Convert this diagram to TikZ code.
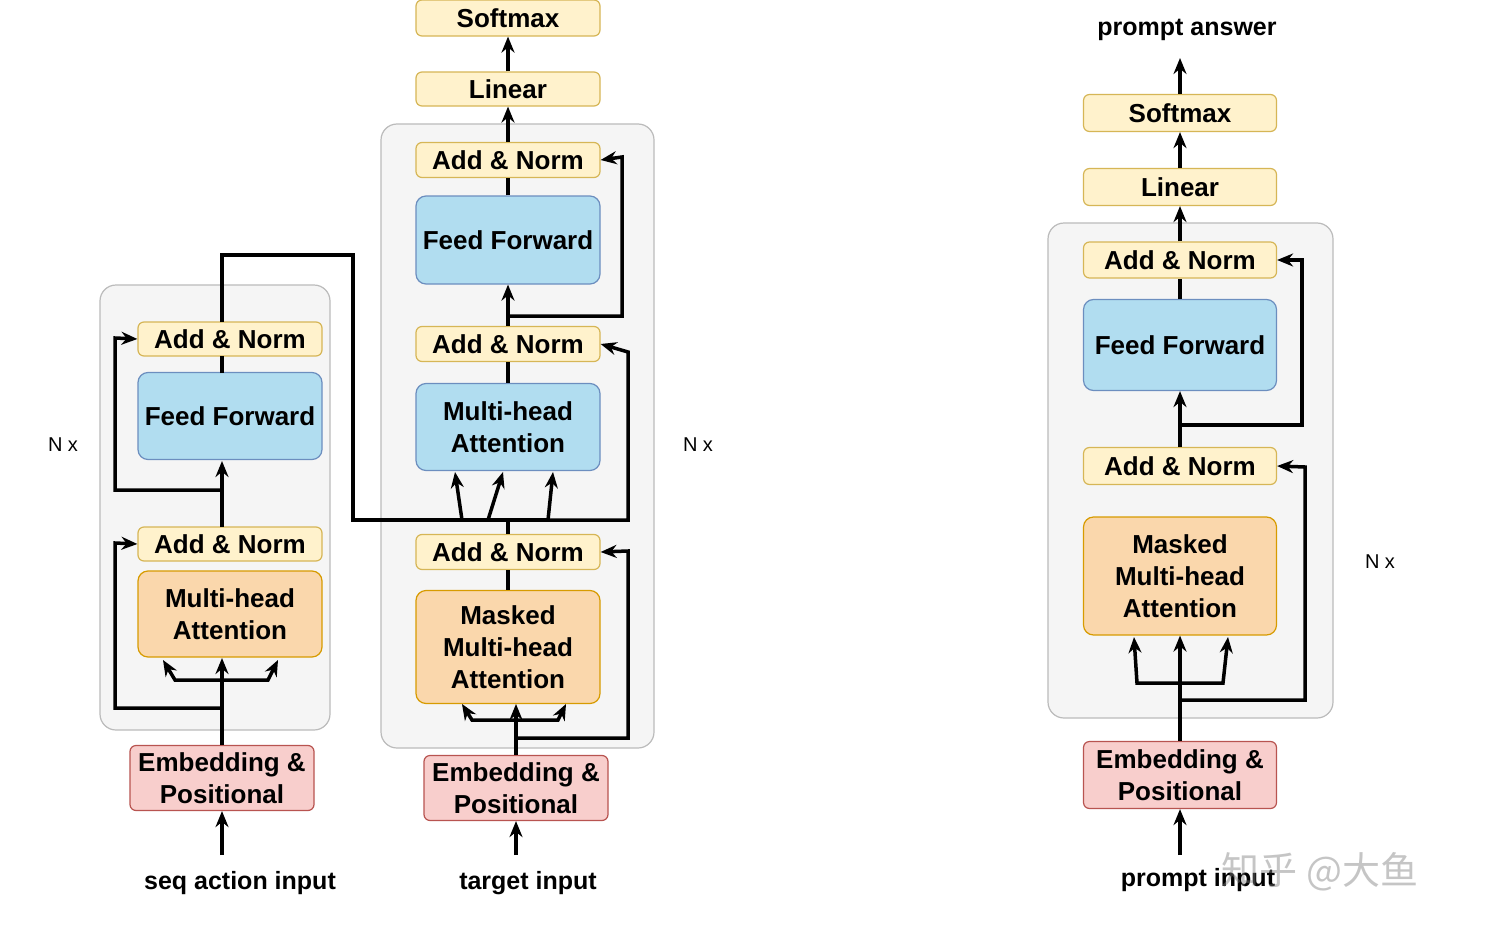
\documentclass[tikz,border=0pt]{standalone}
\usepackage{fontspec}
\setmainfont{Liberation Sans}
\newfontfamily\cjk{Noto Sans CJK SC}
\usetikzlibrary{arrows.meta}
\definecolor{yelF}{HTML}{FFF2CC}\definecolor{yelD}{HTML}{D6B656}
\definecolor{bluF}{HTML}{B1DDF0}\definecolor{bluD}{HTML}{6C8EBF}
\definecolor{orF}{HTML}{FAD7AC}\definecolor{orD}{HTML}{D79B00}
\definecolor{pkF}{HTML}{F8CECC}\definecolor{pkD}{HTML}{B85450}
\definecolor{grF}{HTML}{F5F5F5}\definecolor{grD}{HTML}{BBBBBB}
\begin{document}
\begin{tikzpicture}[x=1pt,y=-1pt,
 bx/.style={draw,line width=1.2pt,rounded corners=6pt,align=center,inner sep=0pt,minimum width=184pt,font=\fontsize{26}{32}\selectfont\bfseries},
 yel/.style={bx,fill=yelF,draw=yelD},
 blu/.style={bx,fill=bluF,draw=bluD,rounded corners=10pt},
 orn/.style={bx,fill=orF,draw=orD,rounded corners=10pt},
 pnk/.style={bx,fill=pkF,draw=pkD},
 grp/.style={draw=grD,fill=grF,line width=1.2pt,rounded corners=16pt},
 ln/.style={line width=3.5pt},
 arr/.style={ln,-{Stealth[length=16pt,width=13pt]}},
 lbl/.style={font=\fontsize{25}{28}\selectfont\bfseries},
 nx/.style={font=\fontsize{20}{24}\selectfont}]
\useasboundingbox[fill=white] (0,0) rectangle (1510,926);
% groups
\draw[grp] (100,285) rectangle (330,730);
\draw[grp] (381,124) rectangle (654,748);
\draw[grp] (1048,223) rectangle (1333,718);
% encoder
\node[yel,minimum height=34pt] (lan2) at (230,339) {Add \& Norm};
\node[blu,minimum height=87pt] (lff) at (230,416) {Feed Forward};
\node[yel,minimum height=34pt] (lan1) at (230,544) {Add \& Norm};
\node[orn,minimum height=86pt] (lmha) at (230,614) {Multi-head\\Attention};
\node[pnk,minimum height=65pt] (lemb) at (222,778) {Embedding \&\\Positional};
\node[lbl] (lin) at (240,883) {seq action input};
\node[nx] (lnx) at (63,445) {N x};
% decoder
\node[yel,minimum height=36pt] (dsm) at (508,18) {Softmax};
\node[yel,minimum height=34pt] (dlin) at (508,89) {Linear};
\node[yel,minimum height=35pt] (dan3) at (508,160) {Add \& Norm};
\node[blu,minimum height=88pt] (dff) at (508,240) {Feed Forward};
\node[yel,minimum height=35pt] (dan2) at (508,344) {Add \& Norm};
\node[blu,minimum height=87pt] (dmha) at (508,427) {Multi-head\\Attention};
\node[yel,minimum height=35pt] (dan1) at (508,552) {Add \& Norm};
\node[orn,minimum height=113pt] (dmm) at (508,647) {Masked\\Multi-head\\Attention};
\node[pnk,minimum height=65pt] (demb) at (516,788) {Embedding \&\\Positional};
\node[lbl] (din) at (528,883) {target input};
\node[nx] (dnx) at (698,445) {N x};
% right
\node[lbl] (pans) at (1187,30) {prompt answer};
\node[yel,minimum width=193pt,minimum height=37pt] (rsm) at (1180,113) {Softmax};
\node[yel,minimum width=193pt,minimum height=37pt] (rlin) at (1180,187) {Linear};
\node[yel,minimum width=193pt,minimum height=36pt] (ran2) at (1180,260) {Add \& Norm};
\node[blu,minimum width=193pt,minimum height=91pt] (rff) at (1180,345) {Feed Forward};
\node[yel,minimum width=193pt,minimum height=37pt] (ran1) at (1180,466) {Add \& Norm};
\node[orn,minimum width=193pt,minimum height=118pt] (rmm) at (1180,576) {Masked\\Multi-head\\Attention};
\node[pnk,minimum width=193pt,minimum height=67pt] (remb) at (1180,775) {Embedding \&\\Positional};
\node[lbl] (pin) at (1198,880) {prompt input};
\node[font=\cjk\fontsize{38}{40}\selectfont,text=gray,opacity=0.45] (wm) at (1320,872) {知乎 @大鱼};
\node[nx] (rnx) at (1380,562) {N x};
% encoder connectors
\coordinate (la) at (222,855);
\draw[arr] (la) -- (lemb.south);
\draw[ln] (lemb.north) -- (222,680);
\draw[arr] (222,680) -- (222,658);
\draw[arr] (222,680) -- (175,680) -- (163,660);
\draw[arr] (222,680) -- (268,680) -- (278,660);
\draw[arr] (222,708) -- (115,708) -- (115,543) -- (lan1.west);
\draw[arr] (222,527) -- (222,461);
\draw[arr] (222,490) -- (115,490) -- (115,338) -- (lan2.west);
\draw[ln] (222,373) -- (222,356);
\draw[ln] (222,322) -- (222,255) -- (353,255) -- (353,520) -- (488,520);
\draw[arr] (488,520) -- (503,472);
% decoder connectors
\coordinate (da) at (516,855);
\draw[arr] (da) -- (demb.south);
\draw[ln] (demb.north) -- (516,720);
\draw[arr] (516,720) -- (516,704);
\draw[arr] (516,720) -- (472,720) -- (462,704);
\draw[arr] (516,720) -- (558,720) -- (566,704);
\draw[arr] (516,738) -- (628,738) -- (628,551) -- (dan1.east);
\draw[ln] (dmm.north) -- (dan1.south);
\draw[ln] (dan1.north) -- (508,520) -- (548,520);
\draw[ln] (508,520) -- (462,520);
\draw[arr] (462,520) -- (455,472);
\draw[arr] (548,520) -- (553,472);
\draw[arr] (508,520) -- (628,520) -- (628,352) -- (dan2.east);
\draw[ln] (dmha.north) -- (dan2.south);
\draw[arr] (dan2.north) -- (dff.south);
\draw[arr] (508,316) -- (622,316) -- (622,157) -- (dan3.east);
\draw[ln] (dff.north) -- (dan3.south);
\draw[arr] (dan3.north) -- (dlin.south);
\draw[arr] (dlin.north) -- (dsm.south);
% right connectors
\coordinate (ra) at (1180,855);
\draw[arr] (ra) -- (remb.south);
\draw[ln] (remb.north) -- (1180,683);
\draw[arr] (1180,683) -- (rmm.south);
\draw[arr] (1180,683) -- (1137,683) -- (1134,637);
\draw[arr] (1180,683) -- (1223,683) -- (1228,637);
\draw[arr] (1180,700) -- (1305,700) -- (1305,467) -- (ran1.east);
\draw[arr] (ran1.north) -- (rff.south);
\draw[arr] (1180,425) -- (1302,425) -- (1302,260) -- (ran2.east);
\draw[ln] (rff.north) -- (ran2.south);
\draw[arr] (ran2.north) -- (rlin.south);
\draw[arr] (rlin.north) -- (rsm.south);
\coordinate (pa) at (1180,58);
\draw[arr] (rsm.north) -- (pa);
\end{tikzpicture}
\end{document}
